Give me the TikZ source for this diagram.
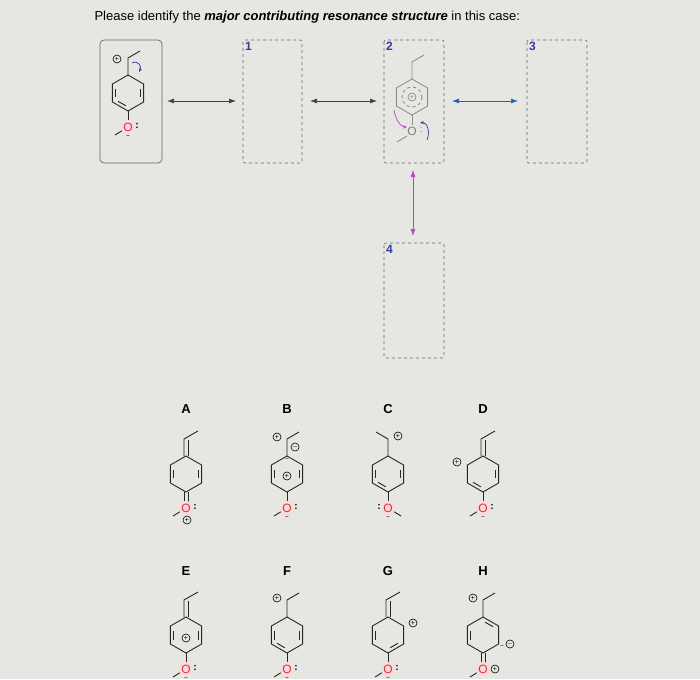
\documentclass[tikz,border=0pt]{standalone}
\usepackage{fontspec}
\setmainfont{Liberation Sans}
\usetikzlibrary{calc,arrows.meta}
\definecolor{bg}{HTML}{E6E7E3}
\definecolor{ored}{HTML}{E0303A}
\definecolor{numblue}{HTML}{2E3C9A}
\definecolor{mag}{HTML}{C040C0}
\tikzset{
  bond/.style={line width=0.9pt,black!85},
  chg/.style={circle,draw,inner sep=0pt,minimum size=8pt,font=\fontsize{7}{7}\selectfont,line width=0.6pt},
  oat/.style={circle,fill=ored!18,inner sep=0.6pt,font=\fontsize{12}{12}\selectfont\color{ored}},
  lett/.style={font=\bfseries\fontsize{13}{13}\selectfont},
  dbox/.style={draw=black!60,dashed,rounded corners=2pt,line width=0.6pt},
  num/.style={font=\bfseries\fontsize{12}{12}\selectfont,text=numblue,anchor=north west,inner sep=1pt},
  rarr/.style={{Latex[length=7pt,width=5pt]}-{Latex[length=7pt,width=5pt]},line width=0.7pt}
}
\newcommand{\ringbase}{%
  \coordinate (t) at (0,-18); \coordinate (tr) at (15.6,-9);
  \coordinate (br) at (15.6,9); \coordinate (b) at (0,18);
  \coordinate (bl) at (-15.6,9); \coordinate (tl) at (-15.6,-9);
  \draw[bond] (t)--(tr)--(br)--(b)--(bl)--(tl)--cycle;}
\newcommand{\inb}[2]{\draw[bond] ($(0,0)!0.78!($(#1)!0.18!(#2)$)$)--($(0,0)!0.78!($(#2)!0.18!(#1)$)$);}
\newcommand{\topsub}{\draw[bond] (t)--(0,-35)--(12,-42);}
\newcommand{\topdbl}{\draw[bond] (-2,-18)--(-2,-35)--(12,-43); \draw[bond] (2,-18)--(2,-34);}
\newcommand{\osub}{\draw[bond] (b)--(0,28); \node[oat] (o) at (0,34) {O}; \draw[bond] (o)--(-13,42);
  \node[font=\bfseries\fontsize{10}{10}\selectfont] at (9,33) {:};
  \node[font=\bfseries\fontsize{6}{6}\selectfont] at (0,43) {..};}
\begin{document}
\begin{tikzpicture}[x=1pt,y=-1pt]
\fill[bg] (0,0) rectangle (700,679);
\useasboundingbox (0,0) rectangle (700,679);
\node[anchor=west,font=\fontsize{13}{15}\selectfont] (title) at (91,17) {Please identify the \textbf{\textit{major contributing resonance structure}} in this case:};
\draw[rounded corners=4pt,draw=black!60,line width=0.7pt] (100,40) rectangle (162,163);
\draw[dbox] (243,40) rectangle (302,163); \node[num] (n1) at (244,41) {1};
\draw[dbox] (384,40) rectangle (444,163); \node[num] (n2) at (385,41) {2};
\draw[dbox] (527,40) rectangle (587,163); \node[num] (n3) at (528,41) {3};
\draw[dbox] (384,243) rectangle (444,358); \node[num] (n4) at (385,244) {4};
\coordinate (a1) at (167,101); \coordinate (a2) at (236,101);
\coordinate (a3) at (310,101); \coordinate (a4) at (377,101);
\coordinate (a5) at (452,101); \coordinate (a6) at (518,101);
\coordinate (a7) at (413,170); \coordinate (a8) at (413,236);
\draw[rarr,black!75] (a1)--(a2); \draw[rarr,black!75] (a3)--(a4);
\draw[rarr,numblue!80!cyan] (a5)--(a6); \draw[rarr,mag] (a7)--(a8);
\begin{scope}[shift={(128,93)}]
 \ringbase \inb{tl}{bl} \inb{tr}{br} \inb{b}{bl}
 \topsub \node[chg] at (-11,-34) {+}; \osub
 \draw[-{Stealth[length=4pt]},numblue,line width=0.7pt] (4,-30) .. controls (10,-33) and (14,-27) .. (11,-21);
\end{scope}
\begin{scope}[shift={(412,97)},opacity=0.45]
 \ringbase \topsub
 \draw[bond,dashed] (0,0) circle (10);
 \node[chg] at (0,0) {+};
 \draw[bond] (b)--(0,28); \node[font=\fontsize{12}{12}\selectfont] at (0,34) {O};
 \draw[bond] (-5,39)--(-15,45);
 \node[font=\fontsize{10}{10}\selectfont] at (9,33) {:};
\end{scope}
\draw[-{Stealth[length=4pt]},mag,line width=0.7pt] (394,110) .. controls (396,122) and (402,127) .. (407,127);
\draw[-{Stealth[length=4pt]},numblue,line width=0.7pt] (427,140) .. controls (431,130) and (426,122) .. (420,123);
\node[lett] (LA) at (186,409) {A}; \node[lett] (LB) at (287,409) {B};
\node[lett] (LC) at (388,409) {C}; \node[lett] (LD) at (483,409) {D};
\node[lett] (LE) at (186,571) {E}; \node[lett] (LF) at (287,571) {F};
\node[lett] (LG) at (388,571) {G}; \node[lett] (LH) at (483,571) {H};
\begin{scope}[shift={(186,474)}]
 \ringbase \inb{tl}{bl} \inb{tr}{br} \topdbl
 \draw[bond] (-2,18)--(-2,28); \draw[bond] (2,18)--(2,28);
 \node[oat] (o) at (0,34) {O}; \draw[bond] (o)--(-13,42);
 \node[font=\bfseries\fontsize{10}{10}\selectfont] at (9,33) {:};
 \node[chg] at (1,46) {+};
\end{scope}
\begin{scope}[shift={(287,474)}]
 \ringbase \inb{tl}{bl} \inb{tr}{br} \topsub \osub
 \node[chg] at (-10,-37) {+}; \node[chg] at (8,-27) {$-$};
 \node[chg] at (0,2) {+};
 \node[font=\bfseries\fontsize{6}{6}\selectfont] at (0,-15) {..};
\end{scope}
\begin{scope}[shift={(388,474)}]
 \ringbase \inb{tl}{bl} \inb{tr}{br} \inb{b}{bl}
 \draw[bond] (t)--(0,-35)--(-12,-42); \node[chg] at (10,-38) {+};
 \draw[bond] (b)--(0,28); \node[oat] (o) at (0,34) {O}; \draw[bond] (o)--(13,42);
 \node[font=\bfseries\fontsize{10}{10}\selectfont] at (-9,33) {:};
 \node[font=\bfseries\fontsize{6}{6}\selectfont] at (0,43) {..};
\end{scope}
\begin{scope}[shift={(483,474)}]
 \ringbase \inb{tr}{br} \inb{b}{bl} \topdbl \osub
 \node[chg] at (-26,-12) {+};
\end{scope}
\begin{scope}[shift={(186,635)}]
 \ringbase \inb{tl}{bl} \inb{tr}{br} \topdbl \osub
 \node[chg] at (0,3) {+};
\end{scope}
\begin{scope}[shift={(287,635)}]
 \ringbase \inb{tl}{bl} \inb{tr}{br} \inb{b}{bl} \topsub \osub
 \node[chg] at (-10,-37) {+};
\end{scope}
\begin{scope}[shift={(388,635)}]
 \ringbase \inb{tl}{bl} \inb{br}{b} \topdbl \osub
 \node[chg] at (25,-12) {+};
\end{scope}
\begin{scope}[shift={(483,635)}]
 \ringbase \inb{tl}{bl} \inb{t}{tr} \topsub
 \node[chg] at (-10,-37) {+};
 \draw[bond] (-2,18)--(-2,28); \draw[bond] (2,18)--(2,28);
 \node[oat] (o) at (0,34) {O}; \draw[bond] (o)--(-13,42);
 \node[chg] at (12,34) {+};
 \node[chg] at (27,9) {$-$};
 \node[font=\bfseries\fontsize{6}{6}\selectfont] at (19,11) {..};
\end{scope}
\end{tikzpicture}
\end{document}
